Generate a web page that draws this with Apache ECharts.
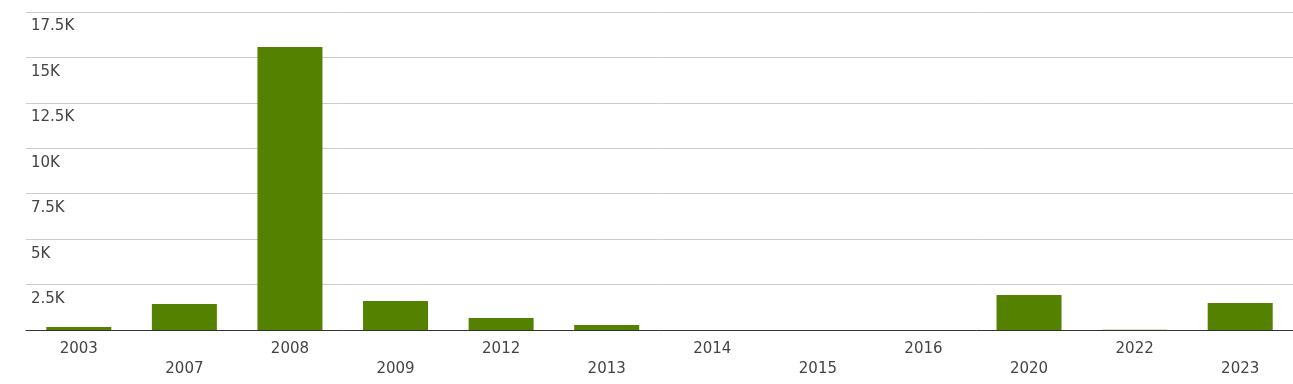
<!DOCTYPE html>
<html>
<head>
<meta charset="utf-8">
<script src="https://cdn.jsdelivr.net/npm/echarts@6/dist/echarts.min.js"></script>
<style>html,body{margin:0;padding:0;background:#fff;}#c{width:1293px;height:384px;}</style>
</head>
<body>
<div id="c"></div>
<script>
const categories = ['2003','2007','2008','2009','2012','2013','2014','2015','2016','2020','2022','2023'];
const values = [165, 1430, 15580, 1600, 660, 275, 0, 0, 0, 1930, 12, 1490];
const yTicks = {min: 0, max: 17500, interval: 2500};

const chart = echarts.init(document.getElementById('c'), null, {renderer: 'canvas'});
chart.setOption({
  animation: false,
  grid: {left: 26, right: 0, top: 12, bottom: 54, containLabel: false},
  xAxis: {
    type: 'category',
    data: categories,
    axisLine: {lineStyle: {color: '#333', width: 1}},
    axisTick: {show: false},
    axisLabel: {
      interval: 0,
      color: '#444',
      fontFamily: 'DejaVu Sans',
      fontSize: 15,
      margin: 9,
      lineHeight: 20,
      formatter: (v, i) => (i % 2 === 1 ? '\n' + v : v)
    }
  },
  yAxis: {
    type: 'value',
    min: yTicks.min, max: yTicks.max, interval: yTicks.interval,
    axisLine: {show: false},
    axisTick: {show: false},
    splitLine: {lineStyle: {color: '#ccc', width: 1}},
    axisLabel: {
      inside: true,
      showMinLabel: false,
      verticalAlign: 'top',
      margin: 0,
      padding: [7, 0, 0, 5],
      color: '#444',
      fontFamily: 'DejaVu Sans',
      fontSize: 15,
      formatter: v => (v / 1000) + 'K'
    }
  },
  series: [{
    type: 'bar',
    data: values,
    barWidth: 65,
    itemStyle: {color: '#548200'}
  }]
});
</script>
</body>
</html>
